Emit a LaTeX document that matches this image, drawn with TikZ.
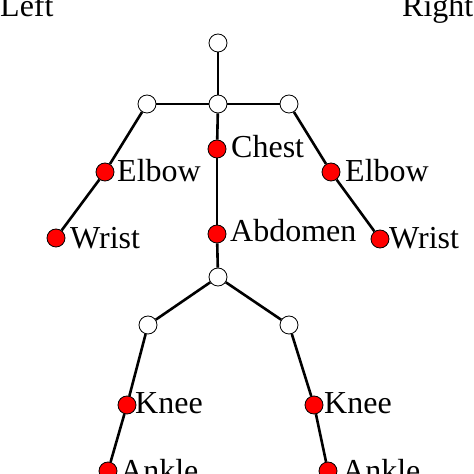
\documentclass[tikz,border=0pt]{standalone}
\usepackage{fontspec}
\setmainfont{Liberation Serif}
\begin{document}
\begin{tikzpicture}[x=1pt,y=1pt,
  joint/.style={circle,draw=black,line width=0.8pt,minimum size=18pt,inner sep=0pt},
  openjoint/.style={joint,fill=white},
  redjoint/.style={joint,fill=red},
  bone/.style={line width=2.6pt},
  lbl/.style={anchor=base west,inner sep=0pt,font=\fontsize{32}{32}\selectfont}]
\useasboundingbox (0,0) rectangle (474,474);
% joints (y = 474 - image y)
\node[openjoint] (head) at (218,431) {};
\node[openjoint] (neck) at (218,370) {};
\node[openjoint] (lsh) at (147,370) {};
\node[openjoint] (rsh) at (289,370) {};
\node[redjoint] (chest) at (217,325) {};
\node[redjoint] (lelb) at (105,302) {};
\node[redjoint] (relb) at (331,302) {};
\node[redjoint] (lwr) at (56,236) {};
\node[redjoint] (rwr) at (380,235) {};
\node[redjoint] (abd) at (217,240) {};
\node[openjoint] (pelv) at (218,197) {};
\node[openjoint] (lhip) at (148,149) {};
\node[openjoint] (rhip) at (289,149) {};
\node[redjoint] (lkn) at (127,69) {};
\node[redjoint] (rkn) at (314,69) {};
\node[redjoint] (lank) at (108,3) {};
\node[redjoint] (rank) at (328,3) {};
% bones
\draw[bone] (head) -- (neck);
\draw[bone] (neck) -- (lsh);
\draw[bone] (neck) -- (rsh);
\draw[bone] (neck) -- (chest);
\draw[bone] (chest) -- (abd);
\draw[bone] (abd) -- (pelv);
\draw[bone] (lsh) -- (lelb);
\draw[bone] (lelb) -- (lwr);
\draw[bone] (rsh) -- (relb);
\draw[bone] (relb) -- (rwr);
\draw[bone] (pelv) -- (lhip);
\draw[bone] (pelv) -- (rhip);
\draw[bone] (lhip) -- (lkn);
\draw[bone] (lkn) -- (lank);
\draw[bone] (rhip) -- (rkn);
\draw[bone] (rkn) -- (rank);
% labels
\node[lbl] (tleft) at (0,457) {Left};
\node[lbl] (tright) at (402,457) {Right};
\node[lbl] (tchest) at (231,316) {Chest};
\node[lbl] (tlelb) at (117,292) {Elbow};
\node[lbl] (trelb) at (345,292) {Elbow};
\node[lbl] (tlwr) at (70,225) {Wrist};
\node[lbl] (trwr) at (389,225) {Wrist};
\node[lbl] (tabd) at (230,232) {Abdomen};
\node[lbl] (tlkn) at (135,60) {Knee};
\node[lbl] (trkn) at (324,60) {Knee};
\node[lbl] (tlank) at (120,-7) {Ankle};
\node[lbl] (trank) at (342,-7) {Ankle};
\end{tikzpicture}
\end{document}
